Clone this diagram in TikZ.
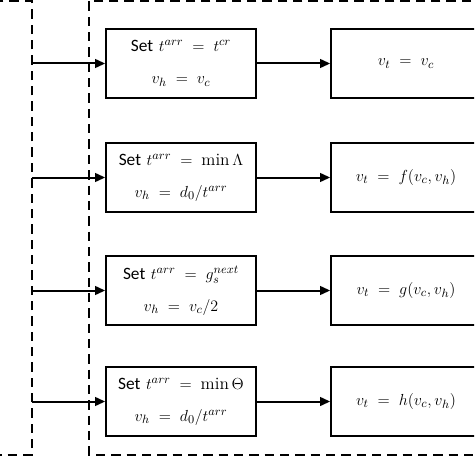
\documentclass[tikz,border=0pt]{standalone}
\usepackage{fontspec}
\newfontfamily\setfont{Carlito}
\usetikzlibrary{arrows.meta}
\tikzset{
  px/.style={x=0.75pt,y=-0.75pt},
  frame/.style={draw,line width=1.5pt,dash pattern=on 7pt off 4.5pt},
  stepbox/.style={draw,line width=1.3pt,minimum width=112.5pt,minimum height=51.75pt,
    inner sep=0pt,align=center,font=\fontsize{13}{24}\selectfont},
  conn/.style={draw,line width=1.5pt,-{Triangle[length=7.5pt,width=6.5pt]}}
}
\begin{document}
\begin{tikzpicture}[px]
\useasboundingbox (0,0) rectangle (474,474);
\clip (0,0) rectangle (474,474);
\draw[frame] (-30,1.5) rectangle (32,454.5);
\draw[frame] (89,1.5) rectangle (540,454.5);
\foreach \i/\y in {1/63.5,2/177.5,3/290.5,4/401.5}{
  \coordinate (s\i) at (32,\y);
}
\node[stepbox] (a1) at (181,63.5) {{\setfont Set} $t^{arr}\;=\;t^{cr}$\\$v_h\;=\;v_c$};
\node[stepbox] (a2) at (181,177.5) {{\setfont Set} $t^{arr}\;=\;\min\Lambda$\\$v_h\;=\;d_0/t^{arr}$};
\node[stepbox] (a3) at (181,290.5) {{\setfont Set} $t^{arr}\;=\;g_s^{next}$\\$v_h\;=\;v_c/2$};
\node[stepbox] (a4) at (181,401.5) {{\setfont Set} $t^{arr}\;=\;\min\Theta$\\$v_h\;=\;d_0/t^{arr}$};
\node[stepbox] (b1) at (406,63.5) {$v_t\;=\;v_c$};
\node[stepbox] (b2) at (406,177.5) {$v_t\;=\;f(v_c,v_h)$};
\node[stepbox] (b3) at (406,290.5) {$v_t\;=\;g(v_c,v_h)$};
\node[stepbox] (b4) at (406,401.5) {$v_t\;=\;h(v_c,v_h)$};
\foreach \i in {1,2,3,4}{
  \draw[conn] (s\i) -- (a\i.west);
  \draw[conn] (a\i.east) -- (b\i.west);
}
\end{tikzpicture}
\end{document}
